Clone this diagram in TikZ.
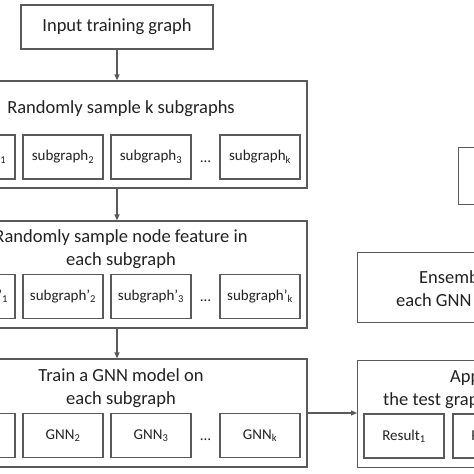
\documentclass[tikz,border=0pt]{standalone}
\usepackage{fontspec}
\setmainfont{Carlito}
\usetikzlibrary{arrows.meta}
\definecolor{ln}{HTML}{5A5A5A}
\definecolor{tx}{HTML}{222222}
\begin{document}
\begin{tikzpicture}[x=1pt,y=-1pt,
  box/.style={draw=ln,line width=1.2pt,rectangle,inner sep=0pt,text=tx},
  big/.style={box,minimum width=379pt,minimum height=107pt},
  small/.style={box,minimum width=80pt,minimum height=44pt,font=\fontsize{15}{18}\selectfont},
  ttl/.style={text=tx,font=\fontsize{18.5}{23}\selectfont,inner sep=0pt},
  dts/.style={text=tx,font=\fontsize{15}{18}\selectfont,inner sep=0pt,anchor=base},
  arr/.style={draw=ln,line width=1.2pt,-{Triangle[length=6pt,width=5pt]}}]
\useasboundingbox (0,0) rectangle (474,474);
\clip (0,0) rectangle (474,474);
\fill[white] (0,0) rectangle (474,474);

% input
\node[box,minimum width=192pt,minimum height=44pt,font=\fontsize{18.5}{23}\selectfont] (input) at (117,27) {Input training graph};

% big box 1
\node[big] (b1) at (117.5,134.5) {};
\node[ttl,anchor=base] (t1) at (121,113) {Randomly sample k subgraphs};
\node[small] (s11) at (-25,157) {subgraph\textsubscript{1}};
\node[small] (s12) at (63,157) {subgraph\textsubscript{2}};
\node[small] (s13) at (151,157) {subgraph\textsubscript{3}};
\node[dts] (d1) at (205.5,162) {…};
\node[small] (s1k) at (260,157) {subgraph\textsubscript{k}};

% big box 2
\node[big] (b2) at (117.5,274.5) {};
\node[ttl,anchor=base] (t2a) at (121,242) {Randomly sample node feature in};
\node[ttl,anchor=base] (t2b) at (121,265) {each subgraph};
\node[small] (s21) at (-25,296.5) {subgraph’\textsubscript{1}};
\node[small] (s22) at (63,296.5) {subgraph’\textsubscript{2}};
\node[small] (s23) at (151,296.5) {subgraph’\textsubscript{3}};
\node[dts] (d2) at (205.5,301) {…};
\node[small] (s2k) at (260,296.5) {subgraph’\textsubscript{k}};

% big box 3
\node[big,minimum height=108pt] (b3) at (117.5,413) {};
\node[ttl,anchor=base] (t3a) at (121,381) {Train a GNN model on};
\node[ttl,anchor=base] (t3b) at (121,404) {each subgraph};
\node[small] (g1) at (-25,435.5) {GNN\textsubscript{1}};
\node[small] (g2) at (63,435.5) {GNN\textsubscript{2}};
\node[small] (g3) at (151,435.5) {GNN\textsubscript{3}};
\node[dts] (d3) at (205.5,440) {…};
\node[small] (gk) at (260,435.5) {GNN\textsubscript{k}};

% right column
\node[box,anchor=north west,minimum width=100pt,minimum height=57pt] (top) at (458,147) {};
\node[box,anchor=north west,minimum width=300pt,minimum height=70pt] (ens) at (357,252) {};
\node[ttl,anchor=base west] (e1) at (419,283) {Ensemble};
\node[ttl,anchor=base west] (e2) at (396,306) {each GNN};
\node[box,anchor=north west,minimum width=380pt,minimum height=107pt] (apply) at (357,360) {};
\node[ttl,anchor=base west] (a1) at (450,382) {Apply};
\node[ttl,anchor=base west] (a2) at (383,405) {the test graph};
\node[small] (r1) at (404,436) {Result\textsubscript{1}};
\node[small] (r2) at (493,436) {Result\textsubscript{2}};

% connectors
\draw[arr] (input.south) -- (input.south |- b1.north);
\draw[arr] (b1.south -| input.south) -- (input.south |- b2.north);
\draw[arr] (b2.south -| input.south) -- (input.south |- b3.north);
\draw[arr] (b3.east) -- (b3.east -| apply.west);
\end{tikzpicture}
\end{document}
